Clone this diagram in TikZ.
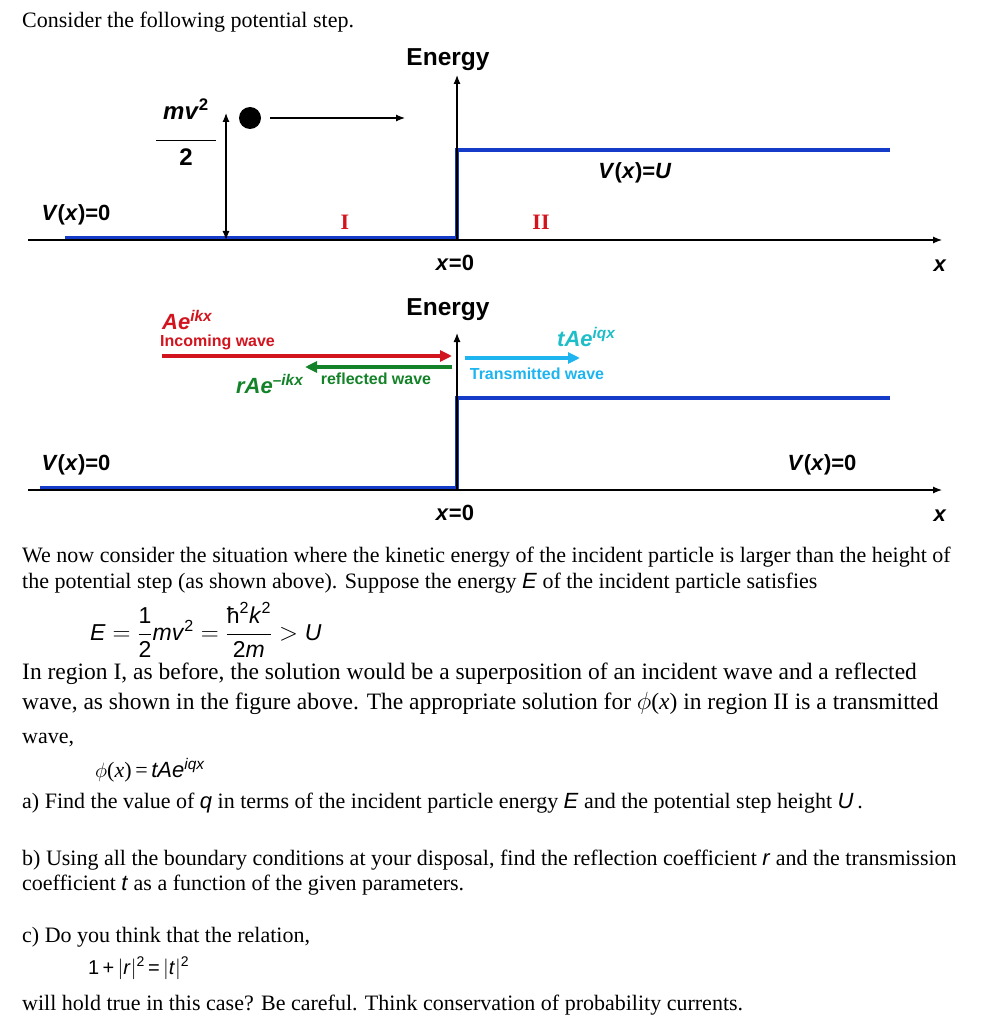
\documentclass[tikz,border=0pt]{standalone}
\usepackage{fontspec}
\usepackage{amsmath}
\setmainfont{Liberation Serif}
\setsansfont{Liberation Sans}
\usetikzlibrary{arrows.meta}
\definecolor{pblue}{RGB}{20,60,200}
\definecolor{pred}{RGB}{210,20,30}
\definecolor{pgreen}{RGB}{20,130,40}
\definecolor{pcyan}{RGB}{30,180,240}
\definecolor{pteal}{RGB}{30,190,200}
\newcommand{\sv}[1]{\textsf{\textit{#1}}}
\newcommand{\su}[1]{\text{\textsf{#1}}}
\tikzset{
 lbl/.style={font=\sffamily\bfseries\fontsize{22}{25}\selectfont, inner sep=0pt},
 sml/.style={font=\sffamily\bfseries\fontsize{16}{18}\selectfont, inner sep=0pt},
 body/.style={font=\fontsize{22}{26}\selectfont, anchor=west, inner sep=0pt},
 axis/.style={draw=black, line width=1.2pt, -{Latex[length=9pt,width=7pt]}},
 pot/.style={draw=pblue, line width=3.5pt},
 roman/.style={font=\bfseries\fontsize{22}{24}\selectfont, text=pred, inner sep=0pt},
 wave/.style={line width=3.5pt, -{Triangle[length=12pt,width=11pt]}}
}
\begin{document}
\begin{tikzpicture}[x=1pt,y=-1pt]
\useasboundingbox (0,0) rectangle (984,1024);
\node[body] (t0) at (22,22) {Consider the following potential step.};
% top diagram
\node[lbl,font=\sffamily\bfseries\fontsize{24.5}{27}\selectfont] (e1) at (448,60) {Energy};
\coordinate (a1b) at (457,240); \coordinate (a1t) at (457,75);
\coordinate (x1l) at (28,240); \coordinate (x1r) at (942,240);
\draw[pot] (65,238) -- (457,238) -- (457,150) -- (890,150);
\draw[axis] (a1b) -- (a1t);
\draw[axis] (x1l) -- (x1r);
\node[lbl] (v1) at (76,215) {\sv{V}(\sv{x})=0};
\node[lbl] (vu) at (635,173) {\sv{V}(\sv{x})=\sv{U}};
\node[roman] (r1) at (345,222) {I};
\node[roman] (r2) at (541,222) {II};
\node[lbl] (x01) at (455,263) {\sv{x}=0};
\node[lbl] (xx1) at (940,266) {\sv{x}};
\node[lbl,font=\sffamily\bfseries\fontsize{24}{26}\selectfont,align=center] (mv) at (186,132) {\sv{mv}\textsuperscript{2}\\[-4pt]\rule{60pt}{1pt}\\[-2pt]2};
\node[circle,fill=black,minimum size=22pt,inner sep=0pt] (dot) at (250,118) {};
\coordinate (m1) at (270,118); \coordinate (m2) at (405,118);
\draw[line width=1.2pt,-{Latex[length=9pt,width=7pt]}] (m1) -- (m2);
\coordinate (h1) at (226,113); \coordinate (h2) at (226,240);
\draw[line width=1.2pt,{Latex[length=9pt,width=7pt]}-{Latex[length=9pt,width=7pt]}] (h1) -- (h2);
% bottom diagram
\node[lbl,font=\sffamily\bfseries\fontsize{24.5}{27}\selectfont] (e2) at (448,310) {Energy};
\coordinate (a2b) at (457,490); \coordinate (a2t) at (457,333);
\coordinate (x2l) at (28,490); \coordinate (x2r) at (942,490);
\draw[pot] (40,488) -- (457,488) -- (457,398) -- (890,398);
\draw[axis] (a2b) -- (a2t);
\draw[axis] (x2l) -- (x2r);
\node[lbl] (v2) at (76,465) {\sv{V}(\sv{x})=0};
\node[lbl] (v3) at (822,465) {\sv{V}(\sv{x})=0};
\node[lbl] (x02) at (455,513) {\sv{x}=0};
\node[lbl] (xx2) at (940,516) {\sv{x}};
\node[lbl,text=pred,anchor=west] (ae) at (162,320) {\sv{Ae}\textsuperscript{\sv{ikx}}};
\node[sml,text=pred,anchor=west] (inc) at (160,342) {Incoming wave};
\coordinate (w1a) at (162,356); \coordinate (w1b) at (452,356);
\draw[wave,draw=pred,fill=pred] (w1a) -- (w1b);
\coordinate (w2a) at (452,367); \coordinate (w2b) at (305,367);
\draw[wave,draw=pgreen,fill=pgreen] (w2a) -- (w2b);
\node[sml,text=pgreen] (rw) at (376,379) {reflected wave};
\node[lbl,text=pgreen] (rae) at (270,384) {\sv{rAe}\textsuperscript{\sv{–ikx}}};
\coordinate (w3a) at (465,358); \coordinate (w3b) at (580,358);
\draw[wave,draw=pcyan,fill=pcyan] (w3a) -- (w3b);
\node[lbl,text=pteal,anchor=west] (tae) at (557,337) {\sv{tAe}\textsuperscript{\sv{iqx}}};
\node[sml,text=pcyan] (tw) at (537,374) {Transmitted wave};
% text
\node[body] (p1) at (22,557) {We now consider the situation where the kinetic energy of the incident particle is larger than the height of};
\node[body] (p2) at (22,583) {the potential step (as shown above). Suppose the energy \sv{E} of the incident particle satisfies};
\node[body,font=\sffamily\fontsize{23}{27}\selectfont] (eq1) at (90,630) {$\sv{E}=\dfrac{\su{1}}{\su{2}}\sv{mv}^{\su{2}}=\dfrac{\su{ħ}^{\su{2}}\sv{k}^{\su{2}}}{\su{2}\sv{m}}>\sv{U}$};
\node[body,font=\fontsize{23.5}{27}\selectfont] (p3) at (22,674) {In region I, as before, the solution would be a superposition of an incident wave and a reflected};
\node[body,font=\fontsize{23.5}{27}\selectfont] (p4) at (22,703) {wave, as shown in the figure above. The appropriate solution for $\phi$(\textit{x}) in region II is a transmitted};
\node[body] (p5) at (22,740) {wave,};
\node[body] (eq2) at (95,770) {$\phi$(\textit{x})\,=\,\sv{tAe}\textsuperscript{\sv{iqx}}};
\node[body] (p6) at (22,803) {a) Find the value of \sv{q} in terms of the incident particle energy \sv{E} and the potential step height \sv{U}\,.};
\node[body] (p7) at (22,860) {b) Using all the boundary conditions at your disposal, find the reflection coefficient \sv{r} and the transmission};
\node[body] (p8) at (22,885) {coefficient \sv{t} as a function of the given parameters.};
\node[body] (p9) at (22,937) {c) Do you think that the relation,};
\node[body,font=\sffamily\fontsize{20}{23}\selectfont] (eq3) at (88,968) {1\,+\,$|$\sv{r}$|$\textsuperscript{2}\,=\,$|$\sv{t}$|$\textsuperscript{2}};
\node[body] (p10) at (22,1005) {will hold true in this case? Be careful. Think conservation of probability currents.};
\end{tikzpicture}
\end{document}
